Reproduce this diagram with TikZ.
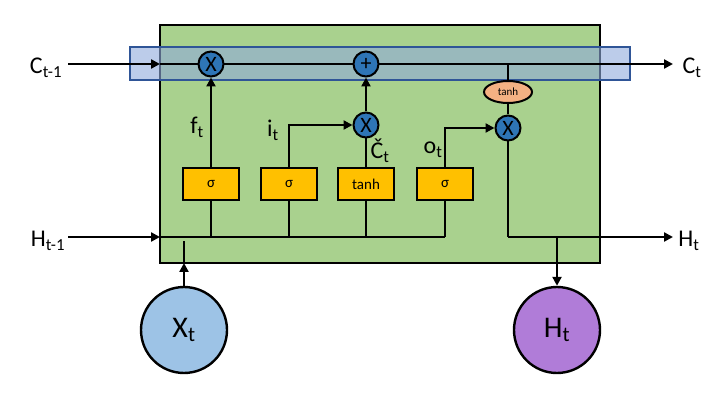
\documentclass[tikz,border=0pt]{standalone}
\usepackage{fontspec}
\setmainfont{Carlito}
\usetikzlibrary{arrows.meta,shapes.geometric}
\definecolor{cellg}{HTML}{A9D18E}
\definecolor{gold}{HTML}{FFC000}
\definecolor{opb}{HTML}{2E75B6}
\definecolor{band}{HTML}{8FAADC}
\definecolor{bandb}{HTML}{2F5597}
\definecolor{peach}{HTML}{F4B183}
\definecolor{xin}{HTML}{9DC3E6}
\definecolor{hout}{HTML}{B07CD8}
\begin{document}
\begin{tikzpicture}[x=1pt,y=-1pt,
  ln/.style={line width=2.6pt,black},
  ar/.style={ln,-{Triangle[length=9pt,width=9pt]}},
  op/.style={circle,draw=black,line width=2pt,fill=opb,minimum size=25pt,inner sep=0pt,font=\fontsize{22}{24}\selectfont},
  gate/.style={rectangle,draw=black,line width=2.4pt,fill=gold,minimum width=56pt,minimum height=32pt,font=\fontsize{15}{18}\selectfont},
  lab/.style={font=\fontsize{24}{28}\selectfont,inner sep=1pt},
  big/.style={circle,draw=black,line width=2.4pt,minimum size=86pt,font=\fontsize{30}{34}\selectfont}]
\useasboundingbox (0,0) rectangle (728,403);
\node[draw=black,line width=2.8pt,fill=cellg,minimum width=440pt,minimum height=238pt,inner sep=0pt] (cell) at (380,144) {};
% band
\fill[band,opacity=0.6] (130,47) rectangle (630,80);
\draw[bandb,line width=1.2pt] (130,47) rectangle (630,80);
% cell state line
\coordinate (cin) at (68,64);
\coordinate (cedge) at (160,64);
\coordinate (cout) at (673,64);
\coordinate (tap) at (508,64);
\draw[ar] (cin) -- (cedge);
\draw[ln] (cedge) -- (tap);
\draw[ar] (tap) -- (cout);
\node[op] (m1) at (211,64) {X};
\node[op] (p1) at (366,64) {+};
\node[ellipse,draw=black,line width=2pt,fill=peach,minimum width=48pt,minimum height=22pt,inner sep=0pt,font=\fontsize{11}{12}\selectfont] (th) at (508,92) {tanh};
\node[op] (m2) at (366,125) {X};
\node[op] (m3) at (508,128) {X};
\node[gate] (g1) at (211,184) {σ};
\node[gate] (g2) at (289,184) {σ};
\node[gate] (g3) at (366,184) {tanh};
\node[gate] (g4) at (445,184) {σ};
% hidden line
\coordinate (hin) at (68,237);
\coordinate (hbox) at (160,237);
\coordinate (hend) at (445,237);
\draw[ar] (hin) -- (hbox);
\draw[ln] (hbox) -- (hend);
\draw[ln] (g1.south) -- (g1.south |- hend);
\draw[ln] (g2.south) -- (g2.south |- hend);
\draw[ln] (g3.south) -- (g3.south |- hend);
\draw[ln] (g4.south) -- (hend);
\draw[ar] (g1.north) -- (m1.south);
\draw[ar] (g2.north) |- (m2.west);
\draw[ln] (g3.north) -- (m2.south);
\draw[ar] (m2.north) -- (p1.south);
\draw[ar] (g4.north) |- (m3.west);
\draw[ln] (tap) -- (th.north);
\draw[ln] (th.south) -- (m3.north);
\coordinate (ho) at (508,237);
\coordinate (hout) at (673,237);
\coordinate (hdn) at (557,237);
\draw[ln] (m3.south) -- (ho);
\draw[ar] (ho) -- (hout);
% bottom circles
\node[big,fill=xin] (X) at (184,330) {X\textsubscript{t}};
\node[big,fill=hout] (H) at (557,330) {H\textsubscript{t}};
\coordinate (xe) at (184,263);
\coordinate (xtop) at (184,241);
\draw[ar] (X.north) -- (xe);
\draw[ln] (xe) -- (xtop);
\draw[ar] (hdn) -- (H.north);
% labels
\node[lab] (lc0) at (46,68) {C\textsubscript{t-1}};
\node[lab] (lc1) at (692,68) {C\textsubscript{t}};
\node[lab] (lh0) at (48,241) {H\textsubscript{t-1}};
\node[lab] (lh1) at (689,241) {H\textsubscript{t}};
\node[lab] (lf) at (197,127) {f\textsubscript{t}};
\node[lab] (li) at (273,130) {i\textsubscript{t}};
\node[lab] (lcc) at (380,151) {Č\textsubscript{t}};
\node[lab] (lo) at (433,150) {o\textsubscript{t}};
\end{tikzpicture}
\end{document}
